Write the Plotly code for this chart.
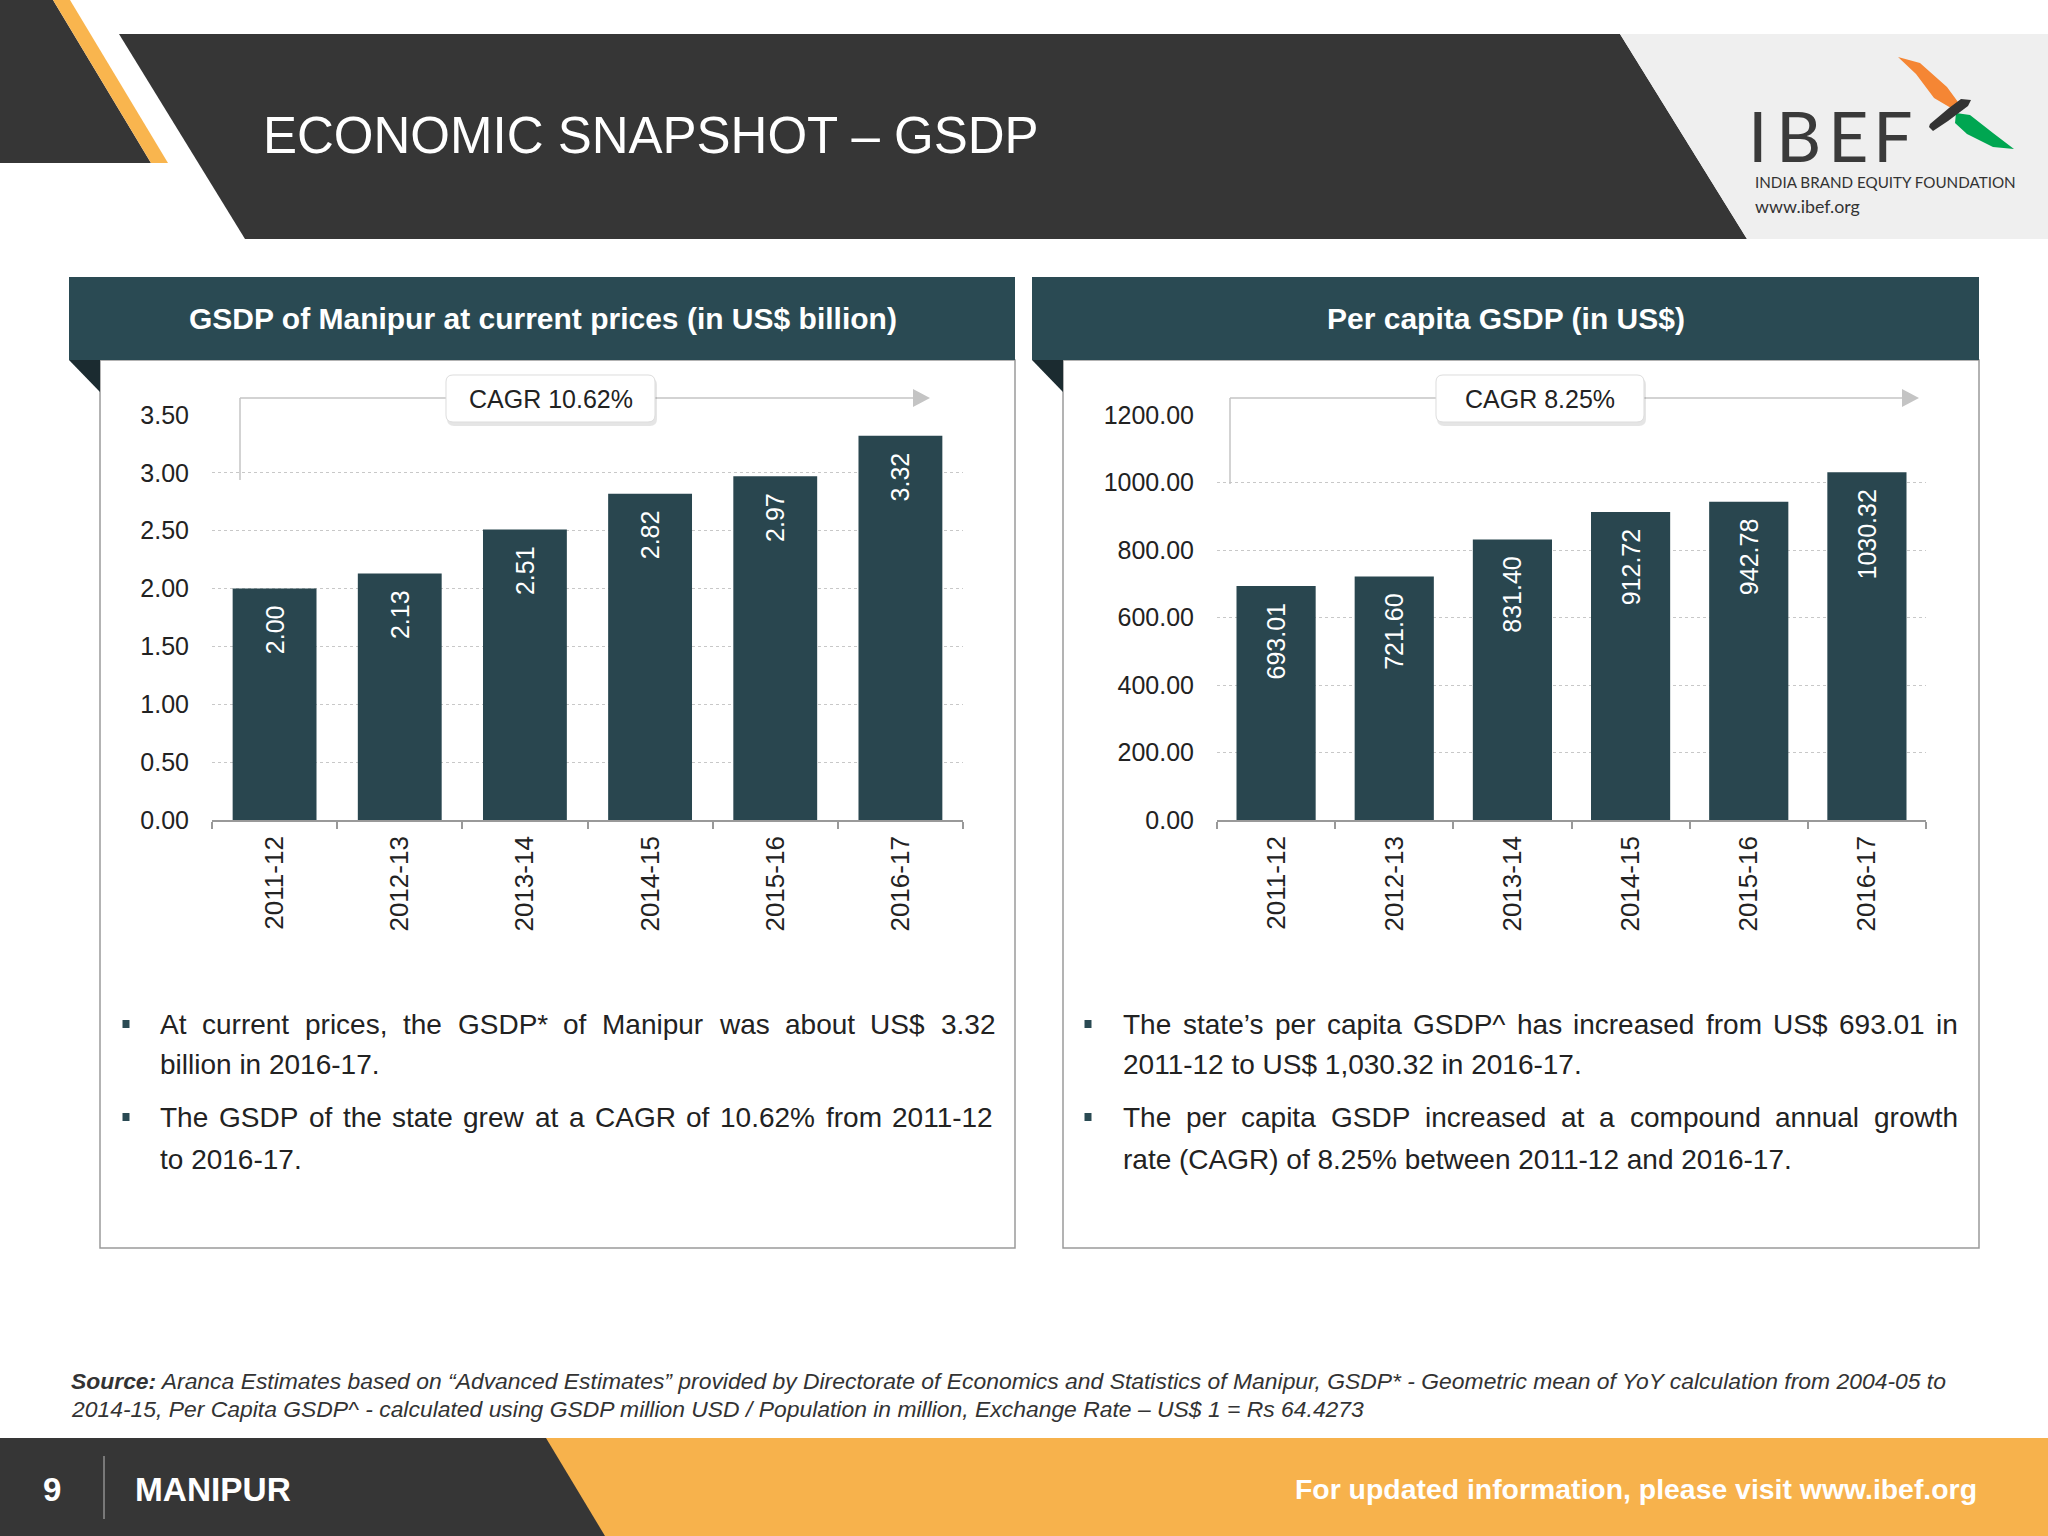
import plotly.graph_objects as go

# ---------------- data ----------------
categories = ["2011-12", "2012-13", "2013-14", "2014-15", "2015-16", "2016-17"]
gsdp_values = [2.00, 2.13, 2.51, 2.82, 2.97, 3.32]
per_capita_values = [693.01, 721.60, 831.40, 912.72, 942.78, 1030.32]
gsdp_ticks = [0.0, 0.5, 1.0, 1.5, 2.0, 2.5, 3.0, 3.5]
per_capita_ticks = [0, 200, 400, 600, 800, 1000, 1200]
gsdp_cagr = "CAGR 10.62%"
per_capita_cagr = "CAGR 8.25%"

page_title = "ECONOMIC SNAPSHOT – GSDP"
left_title = "GSDP of Manipur at current prices (in US$ billion)"
right_title = "Per capita GSDP (in US$)"

left_bullets = [
    ["At current prices, the GSDP* of Manipur was about US$ 3.32", "billion in 2016-17."],
    ["The GSDP of the state grew at a CAGR of 10.62% from 2011-12", "to 2016-17."],
]
right_bullets = [
    ["The state’s per capita GSDP^ has increased from US$ 693.01 in", "2011-12 to US$ 1,030.32 in 2016-17."],
    ["The per capita GSDP increased at a compound annual growth", "rate (CAGR) of 8.25% between 2011-12 and 2016-17."],
]
source_lines = [
    "<b>Source:</b> Aranca Estimates based on “Advanced Estimates” provided by Directorate of Economics and Statistics of Manipur, GSDP* - Geometric mean of YoY calculation from 2004-05 to",
    "2014-15, Per Capita GSDP^ - calculated using GSDP million USD / Population in million, Exchange Rate – US$ 1 = Rs 64.4273",
]

# ---------------- styling ----------------
W, H = 2048, 1536
FONT = "Liberation Sans, Arial, sans-serif"
DARK = "#363636"
ORANGE = "#F7B24C"
TEAL = "#2a4a53"
BAR = "#29464f"
TXT = "#222222"


def px(x):
    return x / W


def py(y):
    return 1 - y / H


def poly(points):
    s = "M " + " L ".join(f"{px(x):.5f},{py(y):.5f}" for x, y in points)
    return s + " Z"


def rounded(x0, y0, x1, y1, r):
    pts = [
        f"M {px(x0 + r):.5f},{py(y0):.5f}",
        f"L {px(x1 - r):.5f},{py(y0):.5f}",
        f"Q {px(x1):.5f},{py(y0):.5f} {px(x1):.5f},{py(y0 + r):.5f}",
        f"L {px(x1):.5f},{py(y1 - r):.5f}",
        f"Q {px(x1):.5f},{py(y1):.5f} {px(x1 - r):.5f},{py(y1):.5f}",
        f"L {px(x0 + r):.5f},{py(y1):.5f}",
        f"Q {px(x0):.5f},{py(y1):.5f} {px(x0):.5f},{py(y1 - r):.5f}",
        f"L {px(x0):.5f},{py(y0 + r):.5f}",
        f"Q {px(x0):.5f},{py(y0):.5f} {px(x0 + r):.5f},{py(y0):.5f}",
        "Z",
    ]
    return " ".join(pts)


ARIAL = {
    " ": 278, "!": 278, '"': 355, "#": 556, "$": 556, "%": 889, "&": 667, "'": 191,
    "(": 333, ")": 333, "*": 389, "+": 584, ",": 278, "-": 333, ".": 278, "/": 278,
    ":": 278, ";": 278, "=": 584, "?": 556, "^": 469, "’": 222,
    "A": 667, "B": 667, "C": 722, "D": 722, "E": 667, "F": 611, "G": 778, "H": 722,
    "I": 278, "J": 500, "K": 667, "L": 556, "M": 833, "N": 722, "O": 778, "P": 667,
    "Q": 778, "R": 722, "S": 667, "T": 611, "U": 722, "V": 667, "W": 944, "X": 667,
    "Y": 667, "Z": 611,
    "a": 556, "b": 556, "c": 500, "d": 556, "e": 556, "f": 278, "g": 556, "h": 556,
    "i": 222, "j": 222, "k": 500, "l": 222, "m": 833, "n": 556, "o": 556, "p": 556,
    "q": 556, "r": 333, "s": 500, "t": 278, "u": 556, "v": 500, "w": 722, "x": 500,
    "y": 500, "z": 500,
}
for d in "0123456789":
    ARIAL[d] = 556


def text_w(s, size):
    return sum(ARIAL.get(c, 556) for c in s) / 1000 * size


shapes = []
annotations = []


def add_poly(points, color, layer="below"):
    shapes.append(dict(type="path", path=poly(points), xref="paper", yref="paper",
                       fillcolor=color, line=dict(width=0), layer=layer))


def add_rect(x0, y0, x1, y1, fill, line_color=None, line_width=0, layer="below"):
    shapes.append(dict(type="rect", xref="paper", yref="paper",
                       x0=px(x0), x1=px(x1), y0=py(y1), y1=py(y0),
                       fillcolor=fill,
                       line=dict(color=line_color or fill, width=line_width),
                       layer=layer))


def add_line(x0, y0, x1, y1, color, width=1.5, layer="above"):
    shapes.append(dict(type="line", xref="paper", yref="paper",
                       x0=px(x0), x1=px(x1), y0=py(y0), y1=py(y1),
                       line=dict(color=color, width=width), layer=layer))


def add_text(text, x, y, size, color=TXT, xanchor="left", bold=False, family=FONT, italic=False):
    t = f"<b>{text}</b>" if bold else text
    if italic:
        t = f"<i>{t}</i>"
    annotations.append(dict(text=t, x=px(x), y=py(y), xref="paper", yref="paper",
                            xanchor=xanchor, yanchor="middle", showarrow=False,
                            font=dict(family=family, size=size, color=color),
                            borderpad=0))


def justified(line, x0, x1, y, size):
    words = line.split(" ")
    widths = [text_w(w, size) for w in words]
    gap = (x1 - x0 - sum(widths)) / (len(words) - 1)
    x = x0
    for w, wd in zip(words, widths):
        add_text(w, x, y, size)
        x += wd + gap


# ---------------- header ----------------
add_poly([(0, 0), (53, 0), (151, 163), (0, 163)], DARK)
add_poly([(53, 0), (70, 0), (168, 163), (151, 163)], "#F9B54E")
add_poly([(119, 34), (1620, 34), (1747, 239), (245, 239)], DARK)
add_poly([(1620, 34), (2048, 34), (2048, 239), (1747, 239)], "#efefef")
add_text(page_title, 262, 136, 51, color="white")

# IBEF logo
LOGO_FONT = "Lato, Liberation Sans, sans-serif"
for letter, cx in zip("IBEF", [1758, 1798, 1848, 1893]):
    add_text(letter, cx, 135, 70, color="#3a3a3a", xanchor="center", family=LOGO_FONT)
add_text("INDIA BRAND EQUITY FOUNDATION", 1754, 182, 15.2, color="#333333", family=LOGO_FONT)
add_text("www.ibef.org", 1754, 206, 17.8, color="#333333", family=LOGO_FONT)
add_poly([(1898, 57), (1920, 63), (1947, 87), (1958, 102), (1951, 108), (1934, 98), (1916, 74)], "#F58634", layer="above")
add_poly([(1956, 113), (1970, 115), (1993, 133), (2014, 149), (1993, 147), (1967, 134), (1955, 123)], "#00A651", layer="above")
add_poly([(1929, 127), (1933, 131), (1948, 121), (1968, 106), (1971, 100), (1961, 99), (1949, 108), (1930, 124)], "#333333", layer="above")

# ---------------- panels ----------------
panels = [
    dict(hx0=69, hx1=1015, bx0=100, title=left_title, tcx=543),
    dict(hx0=1032, hx1=1979, bx0=1063, title=right_title, tcx=1506),
]
for p in panels:
    add_rect(p["bx0"], 360, p["hx1"], 1248, "white", "#9a9a9a", 1.5)
    add_rect(p["hx0"], 277, p["hx1"], 360, TEAL)
    add_poly([(p["hx0"], 360), (p["bx0"], 360), (p["bx0"], 392)], "#1b2b30")
    add_text(p["title"], p["tcx"], 319, 30, color="white", xanchor="center", bold=True)

# ---------------- CAGR brackets ----------------
brackets = [
    dict(vx=240, vy1=480, hx1=913, ax=913, box=(446, 375, 655, 422), label=gsdp_cagr),
    dict(vx=1230, vy1=484, hx1=1902, ax=1902, box=(1436, 375, 1644, 422), label=per_capita_cagr),
]
for b in brackets:
    add_line(b["vx"], b["vy1"], b["vx"], 398, "#c4c4c4", 1.5)
    add_line(b["vx"], 398, b["hx1"], 398, "#c4c4c4", 1.5)
    add_poly([(b["ax"], 389), (b["ax"] + 17, 398), (b["ax"], 407)], "#c4c4c4", layer="above")
    x0, y0, x1, y1 = b["box"]
    shapes.append(dict(type="path", path=rounded(x0 + 1, y0 + 3, x1 + 2, y1 + 4, 7), xref="paper", yref="paper",
                       fillcolor="rgba(0,0,0,0.10)", line=dict(width=0), layer="above"))
    shapes.append(dict(type="path", path=rounded(x0, y0, x1, y1, 7), xref="paper", yref="paper",
                       fillcolor="white", line=dict(color="#dddddd", width=1), layer="above"))
    add_text(b["label"], (x0 + x1) / 2, (y0 + y1) / 2, 25, xanchor="center")

# ---------------- bullets ----------------
rows = [(1024, 1064), (1117, 1159)]
for bullets, bx, tx0, tx1 in [(left_bullets, 126, 159, 994), (right_bullets, 1088, 1122, 1957)]:
    for (first, second), (ya, yb) in zip(bullets, rows):
        add_rect(bx - 3.5, ya - 4, bx + 3.5, ya + 4, TEAL, layer="above")
        justified(first, tx0, tx1, ya, 28)
        add_text(second, tx0, yb, 28)

# ---------------- source ----------------
add_text(source_lines[0], 70, 1381, 22.9, color="#333333", italic=True)
add_text(source_lines[1], 70, 1409, 22.9, color="#333333", italic=True)

# ---------------- footer ----------------
add_rect(0, 1438, 2048, 1536, ORANGE)
add_poly([(0, 1438), (546, 1438), (605, 1536), (0, 1536)], DARK)
add_line(104, 1456, 104, 1519, "#bbbbbb", 1, layer="below")
add_text("9", 52, 1489, 33, color="white", xanchor="center", bold=True)
add_text("MANIPUR", 134, 1489, 33.4, color="white", bold=True)
add_text("For updated information, please visit www.ibef.org", 1978, 1489, 28.4, color="white", xanchor="right", bold=True)

# ---------------- charts ----------------
fig = go.Figure()
nb = "\u00a0\u00a0"
fig.add_trace(go.Bar(x=categories, y=gsdp_values, marker=dict(color=BAR, line=dict(width=0)),
                     texttemplate="%{y:.2f}" + nb, textposition="inside", insidetextanchor="end",
                     textangle=-90, textfont=dict(family=FONT, size=25, color="white"),
                     xaxis="x", yaxis="y", hoverinfo="skip"))
fig.add_trace(go.Bar(x=categories, y=per_capita_values, marker=dict(color=BAR, line=dict(width=0)),
                     texttemplate="%{y:.2f}" + nb, textposition="inside", insidetextanchor="end",
                     textangle=-90, textfont=dict(family=FONT, size=25, color="white"),
                     xaxis="x2", yaxis="y2", hoverinfo="skip"))

y_bottom, y_top = 820, 415
xcommon = dict(type="category", range=[-0.5, 5.5], showline=True, linecolor="#999999", linewidth=1.5,
               ticks="outside", tickson="boundaries", ticklen=7, tickcolor="#999999", tickwidth=1.5,
               tickangle=-90, tickfont=dict(family=FONT, size=26, color=TXT), showgrid=False,
               zeroline=False, fixedrange=True, automargin=False, ticklabelstandoff=4)
ycommon = dict(showgrid=True, gridcolor="#c8c8c8", griddash="dot", gridwidth=1, zeroline=False,
               showline=False, ticks="outside", ticklen=17, tickcolor="rgba(0,0,0,0)",
               tickformat=".2f", tickfont=dict(family=FONT, size=25, color=TXT),
               fixedrange=True, automargin=False)

fig.update_layout(
    width=W, height=H, autosize=False,
    margin=dict(l=0, r=0, t=0, b=0),
    paper_bgcolor="white", plot_bgcolor="rgba(0,0,0,0)",
    showlegend=False, bargap=0.33, hovermode=False,
    font=dict(family=FONT, color=TXT),
    xaxis=dict(domain=[px(212), px(963)], anchor="y", **xcommon),
    yaxis=dict(domain=[py(y_bottom), py(y_top)], anchor="x", range=[0, 3.5],
               tickvals=gsdp_ticks, **ycommon),
    xaxis2=dict(domain=[px(1217), px(1926)], anchor="y2", **xcommon),
    yaxis2=dict(domain=[py(y_bottom), py(y_top)], anchor="x2", range=[0, 1200],
                tickvals=per_capita_ticks, **ycommon),
    shapes=shapes,
    annotations=annotations,
)

fig.write_html("out.html")
